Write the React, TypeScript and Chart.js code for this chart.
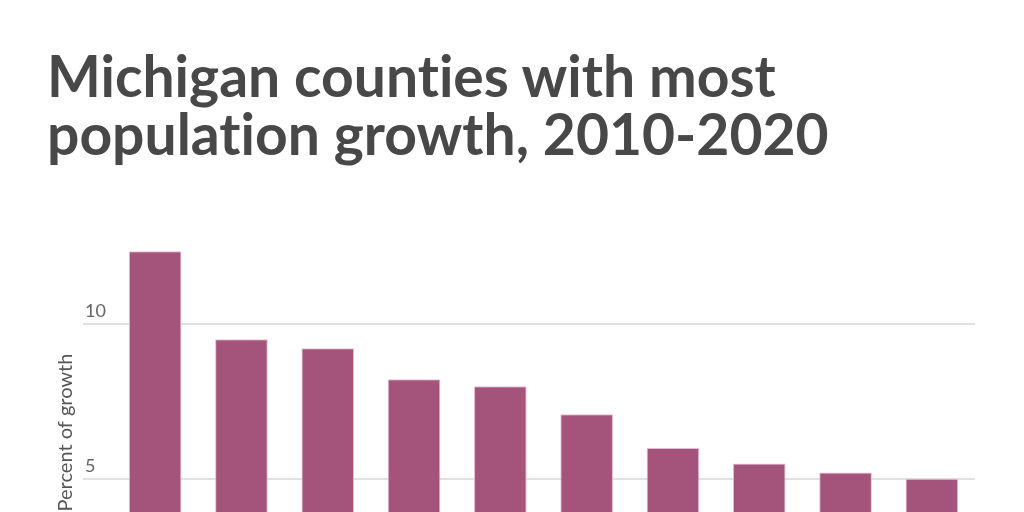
import React, { useEffect, useRef } from "react";
import { Chart, registerables } from "chart.js";

Chart.register(...registerables);

const TITLE_LINES = ["Michigan counties with most", "population growth, 2010-2020"];
const COUNTIES = [
  "Ottawa",
  "Grand Traverse",
  "Kent",
  "Allegan",
  "Washtenaw",
  "Livingston",
  "Oakland",
  "Barry",
  "Montcalm",
  "Clinton",
];
const GROWTH = [12.35, 9.51, 9.22, 8.22, 7.99, 7.09, 6.0, 5.5, 5.21, 5.01];
const Y_TICKS = [0, 5, 10];
const Y_TITLE = "Percent of growth";

export default function App() {
  const ref = useRef<HTMLCanvasElement | null>(null);

  useEffect(() => {
    document.body.style.margin = "0";
    document.documentElement.style.overflow = "hidden";
    const canvas = ref.current;
    if (!canvas) return;
    const chart = new Chart(canvas, {
      type: "bar",
      data: {
        labels: COUNTIES,
        datasets: [
          {
            data: GROWTH,
            backgroundColor: "#a4547a",
            borderColor: "#e4bdd0",
            borderWidth: 1,
            barPercentage: 0.61,
            categoryPercentage: 1,
          },
        ],
      },
      options: {
        animation: false,
        responsive: false,
        devicePixelRatio: 1,
        layout: { padding: { top: 231, left: 50, right: 49, bottom: 10 } },
        plugins: { legend: { display: false }, tooltip: { enabled: false } },
        scales: {
          x: {
            grid: { display: false },
            border: { display: false },
            ticks: {
              color: "#555555",
              font: { family: "Lato", size: 16 },
              maxRotation: 0,
              autoSkip: false,
            },
            afterFit: (s: any) => {
              s.height = 76;
            },
          },
          y: {
            min: 0,
            max: 13,
            ticks: {
              stepSize: 5,
              mirror: true,
              padding: -27,
              labelOffset: -13,
              color: "#666666",
              font: { family: "Lato", size: 18 },
            },
            afterBuildTicks: (axis: any) => {
              axis.ticks = Y_TICKS.map((v) => ({ value: v }));
            },
            afterFit: (s: any) => {
              s.width = 62;
            },
            grid: {
              color: "#e1e1e1",
              lineWidth: 2,
              tickLength: 29,
              tickColor: "#e1e1e1",
              tickWidth: 2,
            },
            border: { display: false },
            title: {
              display: true,
              text: Y_TITLE,
              color: "#555555",
              font: { family: "Lato", size: 20 },
              padding: 4,
            },
          },
        },
      },
    });
    return () => chart.destroy();
  }, []);

  return (
    <div
      style={{
        position: "relative",
        width: 1024,
        height: 512,
        overflow: "hidden",
        background: "#ffffff",
      }}
    >
      <canvas
        ref={ref}
        width={1024}
        height={720}
        style={{ position: "absolute", left: 0, top: 0, width: 1024, height: 720 }}
      />
      <div
        style={{
          position: "absolute",
          left: 47,
          top: 46,
          fontFamily: "Lato",
          fontWeight: 700,
          fontSize: 57,
          lineHeight: "58px",
          color: "#484848",
          whiteSpace: "nowrap",
          fontVariantLigatures: "none",
          fontFeatureSettings: '"liga" 0, "clig" 0',
        }}
      >
        {TITLE_LINES.map((l) => (
          <div key={l}>{l}</div>
        ))}
      </div>
    </div>
  );
}
